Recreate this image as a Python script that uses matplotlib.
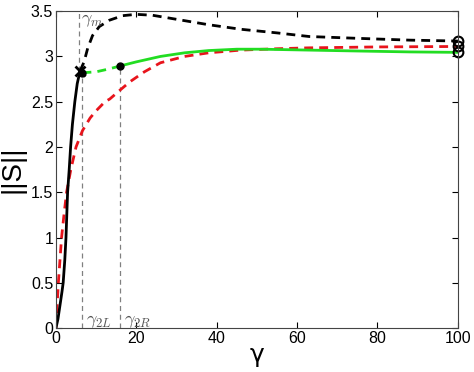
import numpy as np
import matplotlib
matplotlib.use("Agg")
import matplotlib.pyplot as plt

plt.rcParams['mathtext.fontset'] = 'cm'
plt.rcParams['font.family'] = ['Liberation Sans', 'DejaVu Sans']

blk_g = [0, 0.5, 1, 1.5, 1.8, 2.2, 2.5, 2.7, 2.9, 3.3, 3.65, 4.1, 4.7, 5.3, 6.0]
blk_s = [0, 0.1, 0.25, 0.4, 0.5, 0.75, 1.0, 1.25, 1.5, 1.75, 2.0, 2.25, 2.5, 2.7, 2.84]

blkd_g = [6.0, 7.0, 7.9, 9.1, 10.8, 13.3, 16.6, 19.9, 24, 30, 38, 46, 55, 63, 75, 88, 100]
blkd_s = [2.84, 2.94, 3.09, 3.23, 3.33, 3.40, 3.45, 3.465, 3.455, 3.41, 3.35, 3.30, 3.26, 3.22, 3.20, 3.18, 3.17]

grd_g = [6.6, 10, 13, 16]
grd_s = [2.82, 2.83, 2.86, 2.895]

grs_g = [16, 20, 26, 32, 38, 45, 51, 63, 75, 88, 100]
grs_s = [2.895, 2.94, 3.00, 3.04, 3.065, 3.08, 3.08, 3.07, 3.06, 3.05, 3.045]

red_g = [0, 0.3, 0.6, 1.0, 1.4, 2.0, 2.65, 3.7, 5, 6.6, 8.5, 10, 12.2, 13.4, 16,
         18.4, 22, 26, 32, 38, 46, 55, 63, 80, 100]
red_s = [0, 0.25, 0.5, 0.75, 1.0, 1.25, 1.5, 1.75, 2.0, 2.18, 2.32, 2.40, 2.5, 2.53, 2.63,
         2.72, 2.83, 2.93, 3.0, 3.04, 3.07, 3.085, 3.095, 3.105, 3.11]

g_m, s_m = 6.0, 2.84
g_2L, s_2L = 6.6, 2.82
g_2R, s_2R = 16, 2.895
end_s = [3.17, 3.11, 3.045]

fig = plt.figure(figsize=(4.74, 3.72), dpi=100)
ax = fig.add_axes([0.118, 0.118, 0.848, 0.852])

dash = (0, (3.2, 2.2))
# guide lines
ax.plot([g_m - 0.3, g_m - 0.3], [s_m, 3.5], color='gray', lw=0.9, ls=(0, (4, 3)))
ax.plot([g_2L, g_2L], [0, s_2L], color='gray', lw=0.9, ls=(0, (4, 3)))
ax.plot([g_2R, g_2R], [0, s_2R], color='gray', lw=0.9, ls=(0, (4, 3)))

ax.plot(red_g, red_s, color='#e8141c', lw=2, ls=dash)
ax.plot(blk_g, blk_s, color='black', lw=2)
ax.plot(blkd_g, blkd_s, color='black', lw=2, ls=dash)
ax.plot(grd_g, grd_s, color='#22dd22', lw=2, ls=dash)
ax.plot(grs_g, grs_s, color='#22dd22', lw=2)

ax.plot(g_m, s_m, 'kx', ms=7, mew=2)
ax.plot([g_2L, g_2R], [s_2L, s_2R], 'ko', ms=5)
ax.plot([100] * 3, end_s, 'o', mfc='none', mec='black', ms=7, mew=1.5, clip_on=False)

ax.text(g_m + 0.3, 3.49, r'$\gamma_m$', color='#555555', fontsize=13, va='top')
ax.text(g_2L + 0.8, -0.02, r'$\gamma_{2L}$', color='#555555', fontsize=13, va='bottom')
ax.text(g_2R + 0.9, -0.02, r'$\gamma_{2R}$', color='#555555', fontsize=13, va='bottom')

ax.set_xlim(0, 100)
ax.set_ylim(0, 3.5)
ax.set_xticks([0, 20, 40, 60, 80, 100])
ax.set_yticks([0, 0.5, 1, 1.5, 2, 2.5, 3, 3.5])
ax.set_yticklabels(['0', '0.5', '1', '1.5', '2', '2.5', '3', '3.5'])
ax.tick_params(direction='in', top=True, right=True, labelsize=11.5, length=4, pad=2)
for sp in ax.spines.values():
    sp.set_color('#444444')
ax.set_xlabel('γ', fontsize=18, labelpad=-2, family='DejaVu Sans')
ax.set_ylabel('||S||', fontsize=20, labelpad=4)

fig.savefig('out.png', dpi=100)
